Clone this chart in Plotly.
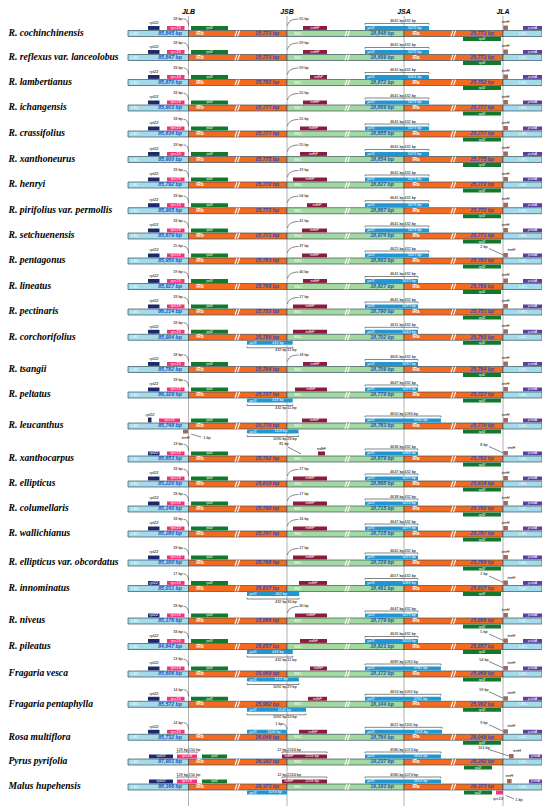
import plotly.graph_objects as go

# ---- data ----
species = ["R. cochinchinensis", "R. reflexus var. lanceolobus", "R. lambertianus", "R. ichangensis",
           "R. crassifolius", "R. xanthoneurus", "R. henryi", "R. pirifolius var. permollis",
           "R. setchuenensis", "R. pentagonus", "R. lineatus", "R. pectinaris", "R. corchorifolius",
           "R. tsangii", "R. peltatus", "R. leucanthus", "R. xanthocarpus", "R. ellipticus",
           "R. columellaris", "R. wallichianus", "R. ellipticus var. obcordatus", "R. innominatus",
           "R. niveus", "R. pileatus", "Fragaria vesca", "Fragaria pentaphylla", "Rosa multiflora",
           "Pyrus pyrifolia", "Malus hupehensis"]
lsc_bp = [85845, 85847, 85870, 85903, 85834, 85900, 85792, 85905, 85879, 85950, 85927, 86214, 85904,
          85782, 86329, 85748, 85653, 85220, 85140, 85280, 85300, 85031, 85176, 84847, 85606, 85572,
          85732, 87901, 88166]
ir_bp = [25771, 25771, 25782, 25777, 25777, 25775, 25772, 25772, 25771, 25783, 25769, 25753, 25760,
         25764, 25727, 25770, 25762, 25818, 25790, 25787, 25768, 25837, 25866, 25857, 25969, 25962,
         26046, 26392, 26373]
ssc_bp = [18848, 18899, 18872, 18869, 18855, 18854, 18827, 18867, 18974, 18893, 18827, 18790, 18702,
          18709, 18779, 18763, 18879, 18868, 18715, 18715, 18729, 18461, 18779, 18823, 18172, 18144,
          18764, 19237, 19193]
rps19_gap = [33, 33, 33, 33, 33, 33, 33, 33, 33, 25, 19, 33, 33, 18, 33, None, 13, 33, 33, 33, 33, 17,
             33, 33, 13, 14, 14, None, None]
ndhf_gap = [55, 59, 59, 55, 55, 55, 19, 54, 41, 37, 40, 17, None, 18, None, None, 81, 17, 17, 16, 17,
            None, 30, None, None, None, None, None, None]
ycf1_left = [4641, 4641, 4632, 4641, 4641, 4641, 4641, 4641, 4641, 4625, 4641, 4641, 4611, 4605, 4647,
             4650, 4636, 4647, 4638, 4647, 4641, 4657, 4647, 4626, 4689, 4653, 4621, 4580, 4580]
ycf1_right = [432, 432, 432, 432, 432, 432, 432, 432, 432, 432, 432, 432, 432, 432, 432, 1090, 432, 432,
              432, 432, 432, 432, 432, 432, 1092, 1092, 1105, 1074, 1074]
trnh_gap = [None] * 9 + [2] + [None] * 6 + [8] + [None] * 4 + [1, None, 5, 54, 59, 9, 101, None]
# copy of ycf1 at JSB (bp in IRb, bp in SSC)
psi_ycf1 = {12: (432, 11), 14: (432, 11), 15: (1090, 28), 21: (432, 30), 23: (432, 11),
            24: (1092, 29), 25: (1092, 50), 28: (1074, 0)}
rosa_ycf1 = {26: (1105, 1)}
rps19_span = {27: (129, 150), 28: (129, 150)}
ndhf_span = {27: (12, 2244), 28: (12, 2244)}
rpl22_inside = {16, 21, 22, 27, 28}

# ---- layout (schematic positions) ----
row_y = [33.5, 57.5, 82.5, 108, 134, 159.5, 185, 210.7, 236, 261, 286.5, 312, 337.3, 369.5, 395, 426,
         459, 484, 509, 534, 563, 588.5, 621, 646.5, 674, 704.3, 737.3, 762, 787]
ndhf_x0 = [303, 303, 310, 303, 300, 300, 293, 307, 302, 302, 303, 293, 293, 303, 295, 302, 318, 293, 293,
           293, 293, 299, 295, 300, 310, 308, 299, 282, 282]
ycf1_x1 = [429] * 10 + [418] * 5 + [441] + [418] * 8 + [441, 441, 442, 441, 441]
X0, X1 = 128, 542
JLB, JSB, JSA, JLA = 188.5, 287, 404, 503
BREAKS = [237, 347, 453]
PAGE = 8   # default body margin of the html page

C_LSC, C_IR, C_SSC = "#a3dbea", "#f46a1f", "#a3d9a0"
C_RPL22, C_RPS19, C_RPL2 = "#1a2a6c", "#f5307c", "#12782c"
C_NDHF, C_YCF1, C_TRNH, C_PSBA = "#8b1c3b", "#1e97d3", "#a3675b", "#5b3fa3"
OUTLINE = "#37525f"
BP_BLUE = "#2150c4"

shapes = []
groups = {}


def text(x, y, s, size=4, color="black", align="center", family="Liberation Sans"):
    pos = {"center": "middle center", "left": "middle right", "right": "middle left"}[align]
    g = groups.setdefault((size, color, pos, family), ([], [], []))
    g[0].append(x)
    g[1].append(y)
    g[2].append(s)


def box(x0, x1, y0, y1, fill, lw=0):
    shapes.append(dict(type="rect", x0=x0, x1=x1, y0=y0, y1=y1, fillcolor=fill, layer="below",
                       line=dict(width=lw, color=OUTLINE)))


def path(d, color="#333333", w=0.6):
    shapes.append(dict(type="path", path=d, layer="below", line=dict(color=color, width=w)))


def line(x0, y0, x1, y1, color="#333333", w=0.6):
    shapes.append(dict(type="line", x0=x0, y0=y0, x1=x1, y1=y1, layer="below",
                       line=dict(color=color, width=w)))


def gene(x0, x1, y0, y1, fill, name, tx=None):
    box(x0, x1, y0, y1, fill)
    if name:
        text((x0 + x1) / 2 if tx is None else tx, (y0 + y1) / 2, "<i>%s</i>" % name, 4, "white")


def bracket(x0, x1, y, jx, lab_l, lab_r, up=True):
    d = 1.3 if up else -1.3
    line(x0, y, x1, y)
    line(x0, y, x0, y + d)
    line(x1, y, x1, y + d)
    ty = y - 2.4 if up else y + 2.6
    text(jx - 0.3, ty, lab_l, 3.8, align="right")
    text(jx + 0.3, ty, lab_r, 3.8, align="left")


# junction lines and headers
for jx, jn in zip([JLB, JSB, JSA, JLA], ["JLB", "JSB", "JSA", "JLA"]):
    line(jx, 16, jx, 806, "#a0a0a0", 0.8)
    text(jx, 12.5, "<b><i>%s</i></b>" % jn, 7)

for i, name in enumerate(species):
    y = row_y[i]
    up0, up1 = y - 7.5, y - 3.6
    dn0, dn1 = y + 3.6, y + 7.5
    text(8.5, y, "<b><i>%s</i></b>" % name, 9.6, "black", "left", "Liberation Serif")

    # genome bar
    for a, b, c in [(X0, JLB, C_LSC), (JLB, JSB, C_IR), (JSB, JSA, C_SSC), (JSA, JLA, C_IR), (JLA, X1, C_LSC)]:
        box(a, b, y - 3, y + 3, c, 0.7)
    for bx in BREAKS:
        for dx in (0, 2.6):
            line(bx - 2 + dx, y + 2.9, bx + dx, y - 2.9, "white", 1.1)
    text(135, y, "LSC", 4, "white")
    text(170, y, "<b><i>%s bp</i></b>" % format(lsc_bp[i], ","), 5.2, BP_BLUE)
    text(200, y, "<b>IRb</b>", 4.6, "white")
    text(267, y, "<b><i>%s bp</i></b>" % format(ir_bp[i], ","), 5.2, BP_BLUE)
    text(298, y, "SSC", 4, "white")
    text(382, y, "<b><i>%s bp</i></b>" % format(ssc_bp[i], ","), 5.2, BP_BLUE)
    text(416, y, "<b>IRa</b>", 4.6, "white")
    text(482, y, "<b><i>%s bp</i></b>" % format(ir_bp[i], ","), 5.2, BP_BLUE)
    text(523, y, "LSC", 4, "white")

    # rpl22
    if i in rps19_span:
        gene(149, 173, up0, up1, C_RPL22, "rpl22")
    elif i == 15:
        box(148, 151.5, up0 - 1, up1, C_RPL22)
        text(150, y - 11.5, "<i>rpl22</i>", 4)
    else:
        if i in rpl22_inside:
            gene(148, 159.5, up0, up1, C_RPL22, "rpl22")
        else:
            box(148, 159.5, up0, up1, C_RPL22)
            text(154, y - 10.8, "<i>rpl22</i>", 4)

    # rps19
    if i in rps19_span:
        gene(177, 197, up0, up1, C_RPS19, "rps19")
        l, r = rps19_span[i]
        bracket(177, 197, y - 10, JLB, "%d bp" % l, "%d bp" % r)
    elif i == 15:
        gene(159, 180, up0, up1, C_RPS19, "rps19")
    else:
        gene(167, 184.5, up0, up1, C_RPS19, "rps19")
    if rps19_gap[i] is not None:
        text(178, y - 14.5, "%d bp" % rps19_gap[i], 3.8)
        path("M 183.5,%.1f C 186.5,%.1f 188.5,%.1f 188.5,%.1f" % (y - 14.5, y - 14.8, y - 12, y - 8))

    # rpl2 at JLB
    if i in rps19_span:
        gene(202, 227, up0, up1, C_RPL2, "rpl2")
    elif i not in rosa_ycf1:
        gene(191, 228, up0, up1, C_RPL2, "rpl2")

    # ycf1 copies at JSB
    if i in rosa_ycf1:
        l, r = rosa_ycf1[i]
        gene(247, JSB, up0, up1, C_YCF1, "ycf1", 253)
        text(274, y - 5.5, "%d bp" % (l + r), 3.8, "white")
        text(279, y - 13.5, "%d bp" % r, 3.8)
        path("M 282.5,%.1f C 285,%.1f 287,%.1f 287,%.1f" % (y - 13.5, y - 13.5, y - 11, y - 8))
    if i in psi_ycf1:
        l, r = psi_ycf1[i]
        x1 = JSB + (2 + 0.34 * r if r else 0)
        gene(247, x1, dn0, dn1, C_YCF1, "ycf1", 253)
        text((247 + x1) / 2 + 8, y + 5.5, "%d bp" % (l + r), 3.8, "white")
        if r:
            bracket(247, x1, y + 10.5, JSB, "%d bp" % l, "%d bp" % r, up=False)

    # ndhF
    if i in ndhf_span:
        l, r = ndhf_span[i]
        gene(282, 327, up0, up1, C_NDHF, "ndhF", 289)
        text(312, y - 5.5, "%d bp" % (l + r), 3.8, "white")
        bracket(282, 327, y - 10, JSB, "%d bp" % l, "%d bp" % r)
    elif i == 16:
        box(ndhf_x0[i], 325, up0, up1, C_NDHF)
        text(321.5, y - 10.5, "<i>ndhF</i>", 4)
        text(284, y - 14.5, "%d bp" % ndhf_gap[i], 3.8)
        line(288, y - 12, 301, y - 5)
    else:
        gene(ndhf_x0[i], 327, up0, up1, C_NDHF, "ndhF")
        if ndhf_gap[i] is not None:
            text(304, y - 14.5, "%d bp" % ndhf_gap[i], 3.8)
            path("M 298.5,%.1f C 292,%.1f 288,%.1f 287.5,%.1f" % (y - 14.5, y - 14.5, y - 12, y - 8))

    # ycf1 at JSA
    x1 = ycf1_x1[i]
    gene(365, x1, up0, up1, C_YCF1, "ycf1", 371)
    text((JSA + x1) / 2 - 2, y - 5.5, "%d bp" % (ycf1_left[i] + ycf1_right[i]), 3.8, "white")
    bracket(365, x1, y - 10, JSA, "%d bp" % ycf1_left[i], "%d bp" % ycf1_right[i])

    # rpl2 at JLA
    if i in rps19_span:
        gene(464, 492, dn0, dn1, C_RPL2, "rpl2")
    else:
        gene(463, 501, dn0, dn1, C_RPL2, "rpl2")

    # trnH
    tx = {27: 509, 28: 507}.get(i, 503.3)
    box(tx, tx + 4.6, y - 8, y - 3.6, C_TRNH)
    if trnh_gap[i] is not None:
        text(484, y - 14, "%d bp" % trnh_gap[i], 3.8)
        line(489, y - 12.5, tx, y - 6)
        text(tx + 8, y - 11, "<i>trnH</i>", 4)
    else:
        text(tx + 2.3, y - 11.5, "<i>trnH</i>", 4)

    # psbA
    if i in rps19_span:
        gene(529, 542, up0, up1, C_PSBA, "psbA")
    else:
        gene(523, 542, up0, up1, C_PSBA, "psbA")

    # odd extras
    if i == 15:
        box(183, 188, dn0, dn1, C_TRNH)
        text(185.5, y + 11.5, "<i>trnH</i>", 4)
        line(191, y + 8, 201, y + 11)
        text(207, y + 12, "1 bp", 3.8)
    if i == 28:
        box(496, 503, dn0, dn1, C_RPS19)
        text(498, y + 12, "<i>rps19</i>", 4)
        line(506, y + 8.5, 514, y + 12)
        text(519, y + 13, "1 bp", 3.8)

fig = go.Figure()
for (size, color, pos, family), (xs, ys, ts) in groups.items():
    fig.add_trace(go.Scatter(x=xs, y=ys, text=ts, mode="text", textposition=pos,
                             textfont=dict(size=size, color=color, family=family),
                             hoverinfo="skip", cliponaxis=False))

fig.update_layout(
    width=550 - PAGE, height=810 - PAGE, margin=dict(l=0, r=0, t=0, b=0),
    paper_bgcolor="white", plot_bgcolor="white", showlegend=False,
    shapes=shapes,
    xaxis=dict(range=[PAGE, 550], visible=False, fixedrange=True),
    yaxis=dict(range=[810, PAGE], visible=False, fixedrange=True),
)
fig.write_html("out.html")
